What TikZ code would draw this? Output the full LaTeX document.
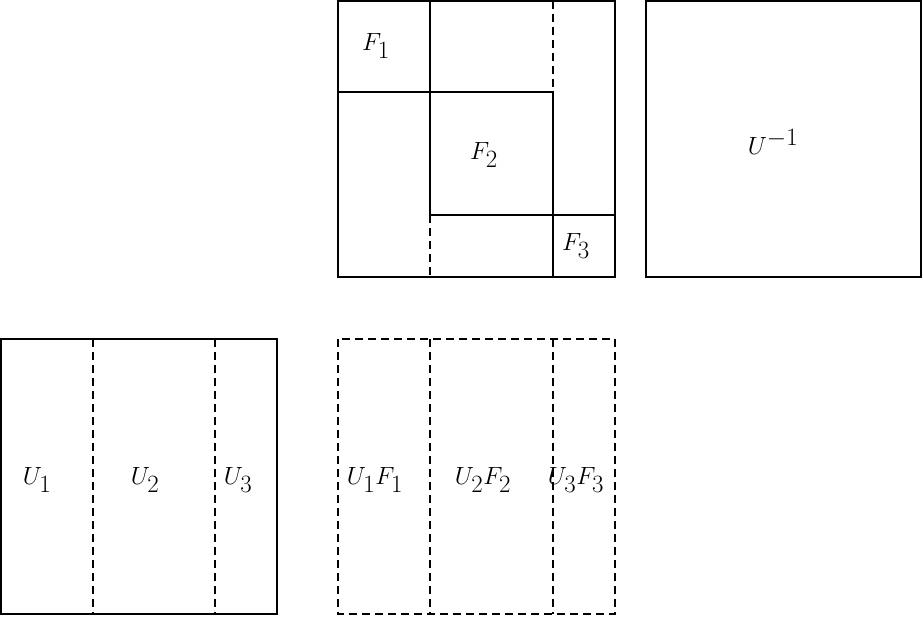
\documentclass[tikz,border=0pt]{standalone}
\begin{document}
\begin{tikzpicture}[x=1pt,y=-1pt,line width=1.5pt,
  dsh/.style={dash pattern=on 8pt off 5pt},
  lab/.style={font=\fontsize{42}{50}\selectfont, inner sep=0pt}]
\useasboundingbox (0,0) rectangle (923,616);
% top middle
\draw (338,1) rectangle (615,277);
\draw (338,92) -- (553,92) -- (553,277);
\draw (430,1) -- (430,215) -- (615,215);
\draw[dsh] (553,1) -- (553,92);
\draw[dsh] (430,215) -- (430,277);
\node[lab] (f1) at (376,46) {$F_1$};
\node[lab] (f2) at (484,155) {$F_2$};
\node[lab] (f3) at (576,246) {$F_3$};
% top right
\draw (646,1) rectangle (921,277);
\node[lab] (ui) at (773,142) {$U^{-1}$};
% bottom left
\draw (1,339) rectangle (277,614);
\draw[dsh] (93,339) -- (93,614);
\draw[dsh] (215,339) -- (215,614);
\node[lab] (u1) at (37,480) {$U_1$};
\node[lab] (u2) at (145,480) {$U_2$};
\node[lab] (u3) at (238,480) {$U_3$};
% bottom middle
\draw[dsh] (338,339) rectangle (615,614);
\draw[dsh] (430,339) -- (430,614);
\draw[dsh] (553,339) -- (553,614);
\node[lab] (uf1) at (375,480) {$U_1F_1$};
\node[lab] (uf2) at (483,480) {$U_2F_2$};
\node[lab] (uf3) at (576,480) {$U_3F_3$};
\end{tikzpicture}
\end{document}
